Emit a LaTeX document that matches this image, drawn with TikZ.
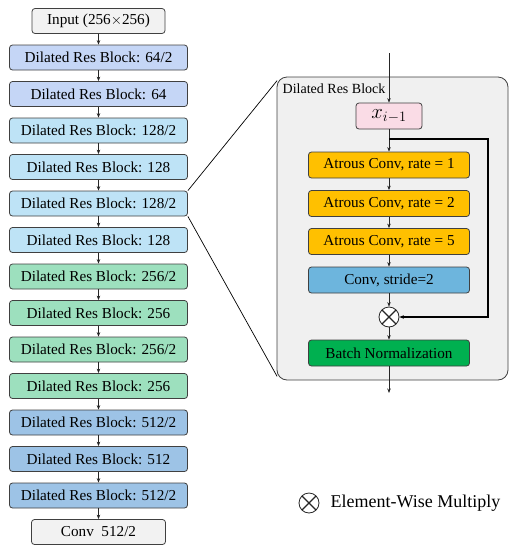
\documentclass[tikz,border=0pt]{standalone}
\usepackage{fontspec}
\setmainfont{Liberation Serif}
\usetikzlibrary{arrows.meta}
\definecolor{cin}{HTML}{F2F2F2}
\definecolor{csixfour}{HTML}{C5D6F6}
\definecolor{conetwo}{HTML}{BEE3F6}
\definecolor{ctwofive}{HTML}{9DE0BE}
\definecolor{cfive}{HTML}{9DC3E6}
\definecolor{cpanel}{HTML}{F0F0F0}
\definecolor{cpink}{HTML}{FADCE6}
\definecolor{corange}{HTML}{FFC000}
\definecolor{cstride}{HTML}{6DB5DD}
\definecolor{cbn}{HTML}{00B050}
\tikzset{
  blk/.style={draw=black!75, line width=0.8pt, rounded corners=3pt, minimum width=178pt,
    minimum height=25pt, inner sep=0pt, font=\fontsize{15.2}{17}\selectfont},
  ibox/.style={blk, minimum width=161pt, minimum height=26pt},
  mult/.style={circle, draw=black!85, line width=0.8pt, fill=white, minimum size=20pt, inner sep=0pt,
    path picture={\draw[line width=1.1pt] ([shift={(3pt,-3pt)}]path picture bounding box.north west)--([shift={(-3pt,3pt)}]path picture bounding box.south east)
      ([shift={(-3pt,-3pt)}]path picture bounding box.north east)--([shift={(3pt,3pt)}]path picture bounding box.south west);}},
  conn/.style={->, line width=0.6pt, black!85}
}
\begin{document}
\begin{tikzpicture}[x=1pt,y=-1pt, >={Stealth[length=4.5pt,width=3.5pt]}]
\useasboundingbox (0,0) rectangle (516,550);
% left column
\node[blk, fill=cin, minimum width=133pt] (in) at (98.5,21) {Input (256$\times$256)};
\foreach \lab/\col [count=\i from 0] in {{64/2}/csixfour, 64/csixfour, {128/2}/conetwo, 128/conetwo,
    {128/2}/conetwo, 128/conetwo, {256/2}/ctwofive, 256/ctwofive, {256/2}/ctwofive, 256/ctwofive,
    {512/2}/cfive, 512/cfive, {512/2}/cfive}{
  \node[blk, fill=\col] (b\i) at (98.5,57.5+36.5*\i) {Dilated Res Block: \lab};
}
\node[blk, fill=cin, minimum width=134pt] (out) at (98.5,532) {Conv\ \ 512/2};
\draw[conn] (in) -- (b0);
\foreach \i [count=\j from 0] in {1,...,12}
  \draw[conn] (b\j) -- (b\i);
\draw[conn] (b12) -- (out);
% detail panel
\node[draw=black!75, line width=0.8pt, fill=cpanel, rounded corners=10pt, minimum width=231pt,
  minimum height=303pt, inner sep=0pt] (panel) at (392.5,228.5) {};
\node[anchor=base west, inner sep=0pt, font=\fontsize{14}{16}\selectfont] (ptitle) at (282.5,93) {Dilated Res Block};
\draw[line width=0.7pt] (b4.north east) -- ([xshift=0.5pt,yshift=-4pt]panel.north west);
\draw[line width=0.7pt] (b4.south east) -- ([xshift=0.5pt,yshift=4pt]panel.south west);
\coordinate (top) at (389,53);
\node[blk, fill=cpink, minimum width=66pt, minimum height=26pt, font=\fontsize{20}{22}\selectfont] (xi) at (389,116) {$x_{i-1}$};
\node[ibox, fill=corange] (ac1) at (389,165) {Atrous Conv, rate = 1};
\node[ibox, fill=corange] (ac2) at (389,203.5) {Atrous Conv, rate = 2};
\node[ibox, fill=corange] (ac5) at (389,241.5) {Atrous Conv, rate = 5};
\node[ibox, fill=cstride] (cs) at (389,280) {Conv, stride=2};
\node[mult] (mul) at (389,317) {};
\node[ibox, fill=cbn] (bn) at (389,353) {Batch Normalization};
\coordinate (outp) at (389,393);
\coordinate (skip) at (488,139);
\draw[conn] (top) -- (xi);
\draw[conn] (xi) -- (ac1);
\draw[conn] (ac1) -- (ac2);
\draw[conn] (ac2) -- (ac5);
\draw[conn] (ac5) -- (cs);
\draw[conn] (cs) -- (mul);
\draw[conn] (mul) -- (bn);
\draw[conn] (bn) -- (outp);
\draw[->, line width=1.3pt] (xi.south |- skip) -- (skip) |- (mul);
% legend
\node[mult] (lgd) at (309,503) {};
\node[anchor=west, font=\fontsize{18}{20}\selectfont] (lgdtxt) at (327,503) {Element-Wise Multiply};
\end{tikzpicture}
\end{document}
